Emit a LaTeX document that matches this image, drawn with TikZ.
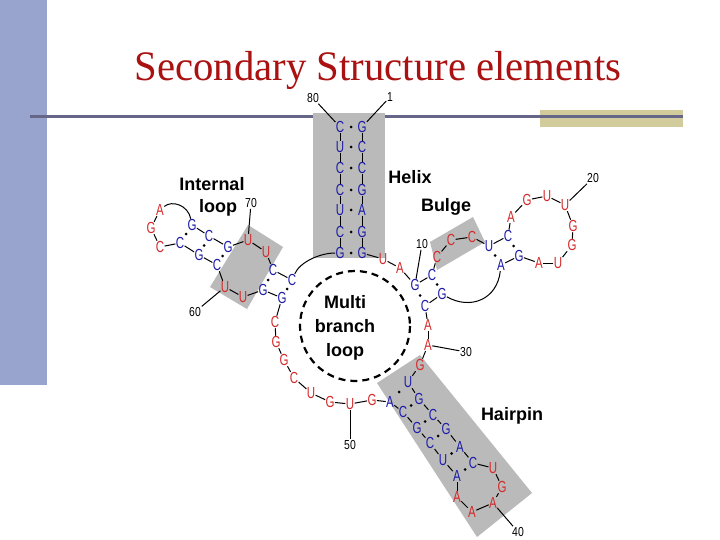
\documentclass[tikz,border=0pt]{standalone}
\usepackage{fontspec}
\setmainfont{Liberation Serif}
\newfontfamily\sansf{Liberation Sans}
\usetikzlibrary{calc}
\begin{document}
\begin{tikzpicture}[x=1pt,y=-1pt,
  nt/.style={font=\sansf\fontsize{16}{16}\selectfont, inner sep=0.4pt, xscale=0.72, minimum width=9pt},
  lab/.style={font=\sansf\bfseries\fontsize{18}{20}\selectfont, align=center},
  num/.style={font=\sansf\fontsize{13}{13}\selectfont, inner sep=1pt, xscale=0.8},
  bk/.style={line width=1pt},
  tick/.style={line width=1pt},
  box/.style={fill=black!27, draw=none}]
\definecolor{rb}{HTML}{1C1CA8}
\definecolor{rr}{HTML}{D42A2A}
\definecolor{barc}{HTML}{98A4CE}
\definecolor{linec}{HTML}{666688}
\definecolor{khaki}{HTML}{D2CC9C}
\definecolor{titc}{HTML}{AA1111}
\useasboundingbox (0,0) rectangle (720,540);
\fill[white] (0,0) rectangle (720,540);
\fill[barc] (0,0) rectangle (47,385);
\fill[khaki] (540,110) rectangle (683,127);
\draw[linec, line width=3pt] (30,117) -- (683,117);
\node[font=\fontsize{42}{44}\selectfont, text=titc, xscale=0.97] (title) at (378,70) {Secondary Structure elements};
% shaded boxes
\fill[box] (313,113) rectangle (385,258);
\fill[box] (248,225) -- (283,247) -- (247,309) -- (210,287) -- cycle;
\fill[box] (430,242) -- (473,217) -- (485,242) -- (437,270) -- cycle;
\fill[box] (377,383) -- (420,355) -- (532,493) -- (477,537) -- cycle;
% multibranch loop
\draw[dashed, line width=2.2pt, dash pattern=on 7pt off 5pt] (355,326) circle (55);
% nucleotides
\foreach \i/\t/\c/\x/\y in {
1/G/rb/362/127, 2/C/rb/362/147, 3/C/rb/362/168, 4/G/rb/362/190, 5/A/rb/362/210, 6/G/rb/362/232, 7/G/rb/362/253,
8/U/rr/383/259, 9/A/rr/400/268, 10/G/rb/415/285, 11/C/rb/432/275, 12/C/rr/437/257, 13/C/rr/451/240, 14/C/rr/472/237,
15/U/rb/489/246, 16/C/rb/508/236, 17/A/rr/511/217, 18/G/rr/527/200, 19/U/rr/547/196, 20/U/rr/565/205, 21/G/rr/573/226,
22/G/rr/572/245, 23/U/rr/558/263, 24/A/rr/539/263, 25/G/rb/519/256, 26/A/rb/501/265, 27/G/rb/442/294, 28/C/rb/425/306,
29/A/rr/428/325, 30/A/rr/428/345, 31/G/rr/420/365, 32/U/rb/408/382, 33/G/rb/419/399, 34/C/rb/433/415, 35/G/rb/446/429,
36/A/rb/460/447, 37/C/rb/473/463, 38/U/rr/493/468, 39/G/rr/502/487, 40/A/rr/493/503, 41/A/rr/472/512, 42/A/rr/457/497,
43/A/rb/457/476, 44/U/rb/443/460, 45/C/rb/430/443, 46/G/rb/417/428, 47/C/rb/403/412, 48/A/rb/390/402, 49/G/rr/372/400,
50/U/rr/350/404, 51/G/rr/330/402, 52/U/rr/311/393, 53/C/rr/294/378, 54/G/rr/284/360, 55/G/rr/276/342, 56/C/rr/275/322,
57/G/rb/282/298, 58/G/rb/263/290, 59/U/rr/243/297, 60/U/rr/225/287, 61/C/rb/217/265, 62/G/rb/199/255, 63/C/rb/180/243,
64/C/rr/160/247, 65/G/rr/151/228, 66/A/rr/160/210, 67/G/rb/192/225, 68/C/rb/209/236, 69/G/rb/228/247, 70/U/rr/248/240,
71/U/rr/266/252, 72/C/rb/273/270, 73/C/rb/292/280, 74/G/rb/340/253, 75/C/rb/340/232, 76/U/rb/340/210, 77/C/rb/340/190,
78/C/rb/340/168, 79/U/rb/340/147, 80/C/rb/340/127}
  \node[nt, text=\c] (n\i) at (\x,\y) {\t};
% backbone
\foreach \i in {1,...,25,27,28,...,65,67,68,...,72,74,75,...,79}{
  \pgfmathtruncatemacro\j{\i+1}
  \draw[bk] (n\i) -- (n\j);
}
\draw[bk] (n26) .. controls (497,300) and (470,310) .. (n27);
\draw[bk] (n66) .. controls (172,200) and (188,205) .. (n67);
\draw[bk] (n73) .. controls (300,262) and (320,253) .. (n74);
% base pairs
\foreach \a/\b in {1/80,2/79,3/78,4/77,5/76,6/75,7/74,10/28,11/27,15/26,16/25,32/48,33/47,34/46,35/45,36/44,37/43,57/73,58/72,61/69,62/68,63/67}
  \fill ($(n\a)!0.5!(n\b)$) circle (1.5);
% numbers
\node[num] (l80) at (313,98) {80};
\node[num] (l1) at (390,97) {1};
\node[num] (l10) at (422,244) {10};
\node[num] (l20) at (593,178) {20};
\node[num] (l30) at (466,352) {30};
\node[num] (l40) at (518,532) {40};
\node[num] (l50) at (350,445) {50};
\node[num] (l60) at (195,312) {60};
\node[num] (l70) at (251,203) {70};
\draw[tick] (l80) -- (n80);
\draw[tick] (l1) -- (n1);
\draw[tick] (l10) -- (n10);
\draw[tick] (l20) -- (n20);
\draw[tick] (l30) -- (n30);
\draw[tick] (l40) -- (n40);
\draw[tick] (l50) -- (n50);
\draw[tick] (l60) -- (n60);
\draw[tick] (l70) -- (n70);
% labels
\node[lab] (helix) at (410,177) {Helix};
\node[lab] (bulge) at (446,207) {Bulge};
\node[lab] (intl) at (212,184) {Internal};
\node[lab] (intl2) at (218,208) {loop};
\node[lab, font=\sansf\bfseries\fontsize{18}{24}\selectfont] (mbl) at (345,328) {Multi\\branch\\loop};
\node[lab] (hp) at (512,416) {Hairpin};
\end{tikzpicture}
\end{document}
